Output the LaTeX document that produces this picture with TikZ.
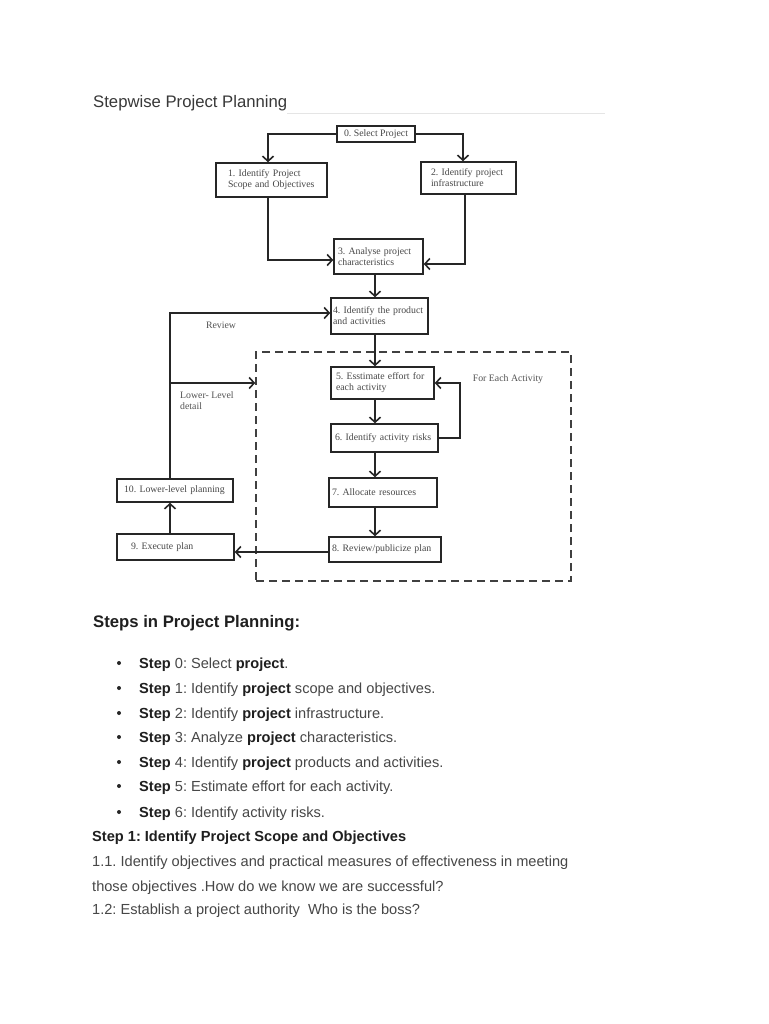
\documentclass[tikz,border=0pt]{standalone}
\usepackage{fontspec}
\setmainfont{Liberation Sans}
\newfontfamily\diagfont{Liberation Serif}
\usetikzlibrary{arrows.meta}
\newcommand\stb[1]{\textcolor{black!88}{\textbf{#1}}}
\frenchspacing
\begin{document}
\begin{tikzpicture}[x=1pt,y=-1pt,
  box/.style n args={3}{draw=black!85, line width=1.5pt, text width=#1, minimum height=#2, inner xsep=#3, inner ysep=1pt,
     font=\diagfont\fontsize{9.8}{11}\selectfont, text=black!72, align=left},
  lbl/.style={font=\diagfont\fontsize{9.8}{11.5}\selectfont, text=black!68, align=left, inner sep=0pt},
  conn/.style={draw=black!85, line width=1.6pt, -{Straight Barb[length=5pt,width=11pt]}},
  body/.style={anchor=base west, inner sep=0pt, text=black!72, font=\fontsize{14.6}{17}\selectfont},
  head/.style={anchor=base west, inner sep=0pt, text=black!88, font=\bfseries\fontsize{16.7}{19}\selectfont},
  bul/.style={circle, fill=black!85, inner sep=0pt, minimum size=4pt}
]
\useasboundingbox (0,0) rectangle (768,1024);
\fill[white] (0,0) rectangle (768,1024);

% title
\node[anchor=base west, inner sep=0pt, text=black!78, font=\fontsize{16.7}{19}\selectfont] (title) at (93,108) {Stepwise Project Planning};
\draw[black!10, line width=0.6pt] (title.east |- 0,113) -- (605,113);

% dashed activity frame
\node[draw=black!75, line width=1.5pt, dash pattern=on 8pt off 5pt, minimum width=315, minimum height=229, inner sep=0pt] (act) at (413.5,466.5) {};

% boxes
\node[draw=black!85, line width=1.6pt, minimum width=78, minimum height=16, inner sep=0pt,
      font=\diagfont\fontsize{9.8}{11}\selectfont, text=black!72] (b0) at (376,134) {0. Select Project};
\node[box={87}{34}{12}] (b1) at (271.5,180) {\mbox{1. Identify Project}\\\mbox{Scope and Objectives}};
\node[box={75}{32}{10}] (b2) at (468.5,178) {\mbox{2. Identify project}\\\mbox{infrastructure}};
\node[box={81}{35}{4}] (b3) at (378.5,256.5) {\mbox{3. Analyse project}\\\mbox{characteristics}};
\node[box={93}{36}{2}] (b4) at (379.5,316) {\mbox{4. Identify the product}\\\mbox{and activities}};
\node[box={93}{32}{5}] (b5) at (382.5,383) {\mbox{5. Esstimate effort for}\\\mbox{each activity}};
\node[box={99}{28}{4}] (b6) at (384.5,438) {\mbox{6. Identify activity risks}};
\node[box={102}{29}{3}] (b7) at (383,492.5) {\mbox{7. Allocate resources}};
\node[box={106}{25}{3}] (b8) at (385,549.5) {\mbox{8. Review/publicize plan}};
\node[box={102}{23}{7}] (b10) at (175,490.5) {\mbox{10. Lower-level planning}};
\node[box={89}{26}{14}] (b9) at (175.5,547) {\mbox{9. Execute plan}};

% labels
\node[lbl] (rev) at (221,325) {Review};
\node[lbl, anchor=north west] (lld) at (180,391) {Lower- Level\\detail};
\node[lbl] (fea) at (508,379) {For Each Activity};

% helper coordinates
\coordinate (spine) at (375,0);
\coordinate (lft) at (170,0);
\coordinate (ll) at (170,383);

% connectors
\draw[conn] (b0.west) -| ([xshift=-3.5]b1.north);
\draw[conn] (b0.east) -| ([xshift=-5.5]b2.north);
\draw[conn] ([xshift=-3.5]b1.south) |- ([yshift=-3.5]b3.west);
\draw[conn] ([xshift=-3.5]b2.south) |- ([yshift=-7.5]b3.east);
\draw[conn] (b3.south -| spine) -- (b4.north -| spine);
\draw[conn] (b4.south -| spine) -- (b5.north -| spine);
\draw[conn] (b5.south -| spine) -- (b6.north -| spine);
\draw[conn] (b6.south -| spine) -- (b7.north -| spine);
\draw[conn] (b7.south -| spine) -- (b8.north -| spine);
\draw[conn] (b6.east) -- ++(21,0) |- (b5.east);
\draw[conn] ([yshift=-2.5]b8.west) -- ([yshift=-2.5]b8.west -| b9.east);
\draw[conn] (b9.north -| lft) -- (b10.south -| lft);
\draw[conn] (b10.north -| lft) |- ([yshift=3]b4.west);
\draw[conn] (ll) -- (ll -| act.west);

% text below
\node[head] (h1) at (93,627) {Steps in Project Planning:};
\foreach \i/\y/\t in {0/668/{\stb{Step} 0: Select \stb{project}.},
                     1/693/{\stb{Step} 1: Identify \stb{project} scope and objectives.},
                     2/718/{\stb{Step} 2: Identify \stb{project} infrastructure.},
                     3/742/{\stb{Step} 3: Analyze \stb{project} characteristics.},
                     4/767/{\stb{Step} 4: Identify \stb{project} products and activities.},
                     5/791/{\stb{Step} 5: Estimate effort for each activity.},
                     6/817/{\stb{Step} 6: Identify activity risks.}} {
  \node[bul] (d\i) at (119,\y-5) {};
  \node[body] (s\i) at (139,\y) {\t};
}
\node[body, text=black!88, font=\bfseries\fontsize{14.6}{17}\selectfont] (h2) at (92,841) {Step 1: Identify Project Scope and Objectives};
\node[body] (p1) at (92,866) {1.1. Identify objectives and practical measures of effectiveness in meeting};
\node[body] (p2) at (92,891) {those objectives .How do we know we are successful?};
\node[body] (p3) at (92,914) {1.2: Establish a project authority\ \ Who is the boss?};
\end{tikzpicture}
\end{document}
